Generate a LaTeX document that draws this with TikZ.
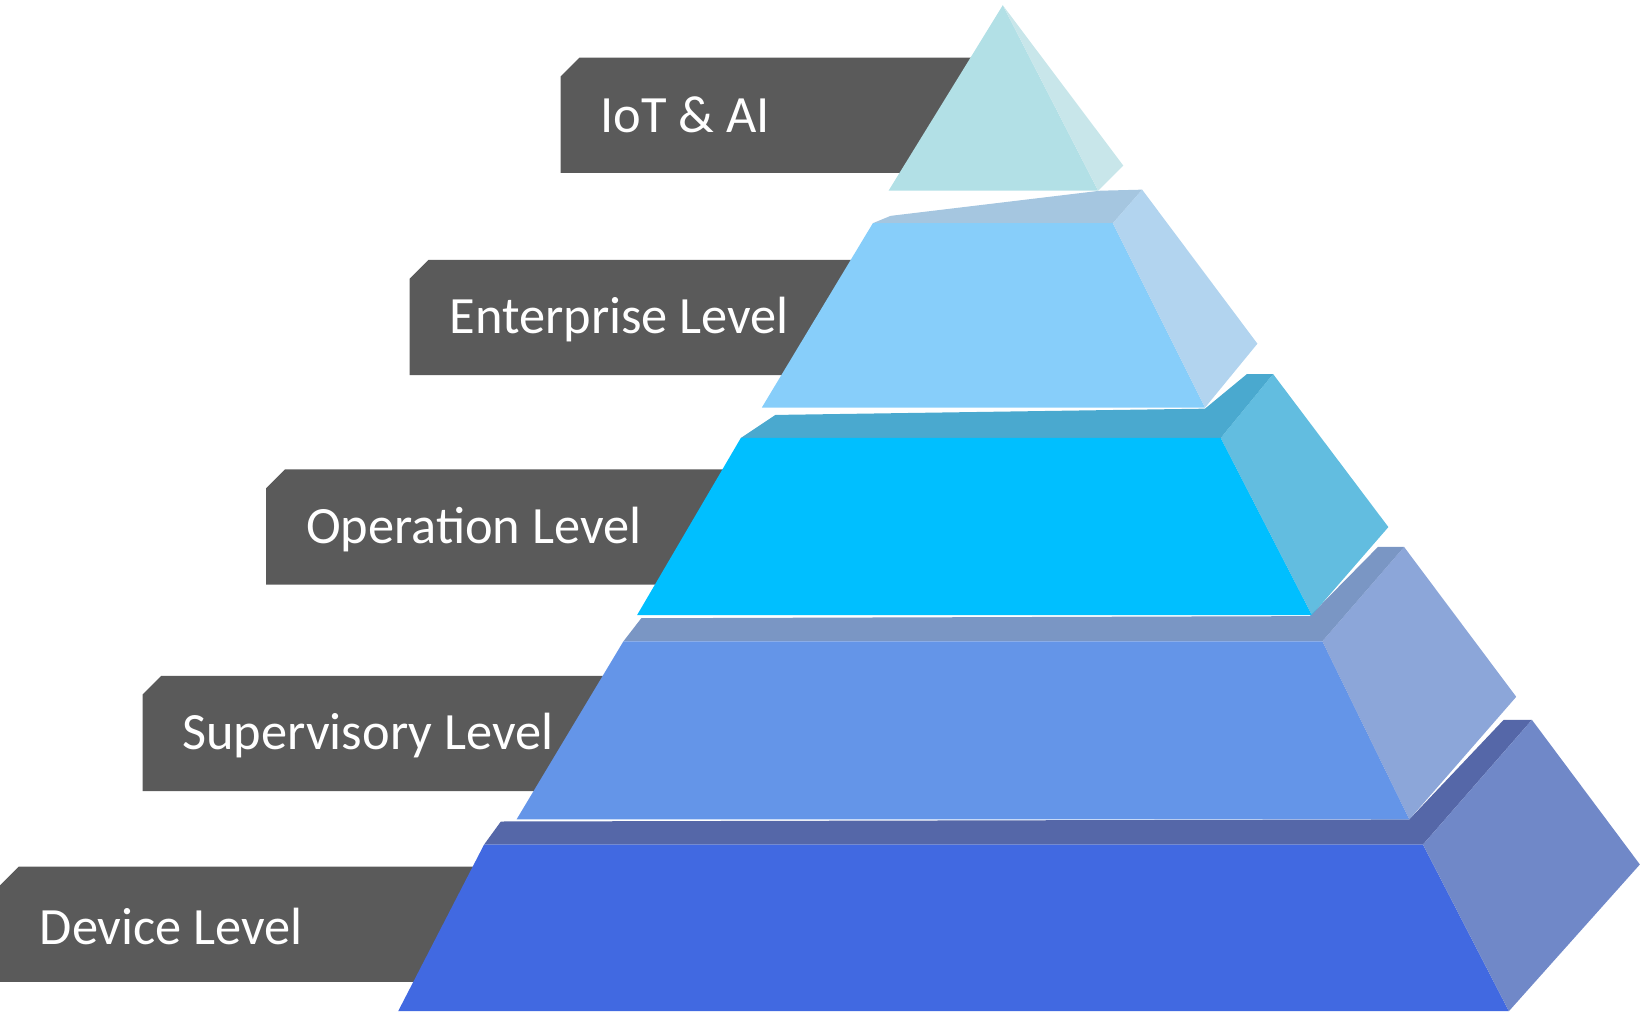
\documentclass[tikz,border=0pt]{standalone}
\usepackage{fontspec}
\setmainfont{Carlito}
\begin{document}
\begin{tikzpicture}[x=0.5pt,y=-0.5pt,
  lbl/.style={fill=labelgray},
  lbltext/.style={anchor=west,text=white,font=\fontsize{25}{30}\selectfont},
  face/.style={line width=0pt}]
\definecolor{labelgray}{HTML}{5A5A5A}
\useasboundingbox (0,0) rectangle (1568,968);
% labels
\fill[lbl] (535,73)--(553,55)--(930,55)--(930,165)--(535,165)--cycle;
\node[lbltext] (t1) at (566,110) {IoT \& AI};
\fill[lbl] (391,266)--(409,248)--(830,248)--(830,358)--(391,358)--cycle;
\node[lbltext] (t2) at (422,305) {Enterprise Level};
\fill[lbl] (254,466)--(272,448)--(700,448)--(700,558)--(254,558)--cycle;
\node[lbltext] (t3) at (285,505) {Operation Level};
\fill[lbl] (136,663)--(154,645)--(590,645)--(590,755)--(136,755)--cycle;
\node[lbltext] (t4) at (167,702) {Supervisory Level};
\fill[lbl] (0,845)--(18,827)--(480,827)--(480,937)--(0,937)--cycle;
\node[lbltext] (t5) at (31,884) {Device Level};
% Device layer
\fill[face,fill={rgb,255:red,85;green,103;blue,168}] (462,806)--(478,784)--(1345,782)--(1435,687)--(1462,687)--(1358,806)--cycle;
\fill[face,fill={rgb,255:red,65;green,105;blue,225}] (380,965)--(1440,965)--(1358,806)--(462,806)--cycle;
\fill[face,fill={rgb,255:red,112;green,136;blue,200}] (1358,806)--(1462,687)--(1565,825)--(1440,965)--cycle;
% Supervisory layer
\fill[face,fill={rgb,255:red,122;green,150;blue,196}] (595,612)--(612,590)--(1250,588)--(1315,522)--(1340,522)--(1262,612)--cycle;
\fill[face,fill={rgb,255:red,100;green,149;blue,232}] (493,782)--(1345,782)--(1262,612)--(595,612)--cycle;
\fill[face,fill={rgb,255:red,120;green,150;blue,210},opacity=0.85] (1262,612)--(1340,522)--(1447,665)--(1345,782)--cycle;
% Operation layer
\fill[face,fill={rgb,255:red,74;green,169;blue,207}] (707,418)--(740,396)--(1150,390)--(1190,357)--(1215,357)--(1165,418)--cycle;
\fill[face,fill={rgb,255:red,0;green,191;blue,255}] (608,587)--(1252,587)--(1165,418)--(707,418)--cycle;
\fill[face,fill={rgb,255:red,70;green,178;blue,218},opacity=0.85] (1165,418)--(1215,357)--(1325,503)--(1252,587)--cycle;
% Enterprise layer
\fill[face,fill={rgb,255:red,165;green,198;blue,224}] (833,213)--(850,206)--(1050,182)--(1090,181)--(1062,213)--cycle;
\fill[face,fill={rgb,255:red,135;green,206;blue,250}] (727,389)--(1150,389)--(1062,213)--(833,213)--cycle;
\fill[face,fill={rgb,255:red,165;green,205;blue,236},opacity=0.85] (1062,213)--(1090,181)--(1200,328)--(1150,389)--cycle;
% Top
\fill[face,fill={rgb,255:red,178;green,224;blue,230}] (848,182)--(1048,182)--(957,5)--cycle;
\fill[face,fill={rgb,255:red,200;green,230;blue,234}] (957,5)--(1072,158)--(1048,182)--cycle;
\end{tikzpicture}
\end{document}
